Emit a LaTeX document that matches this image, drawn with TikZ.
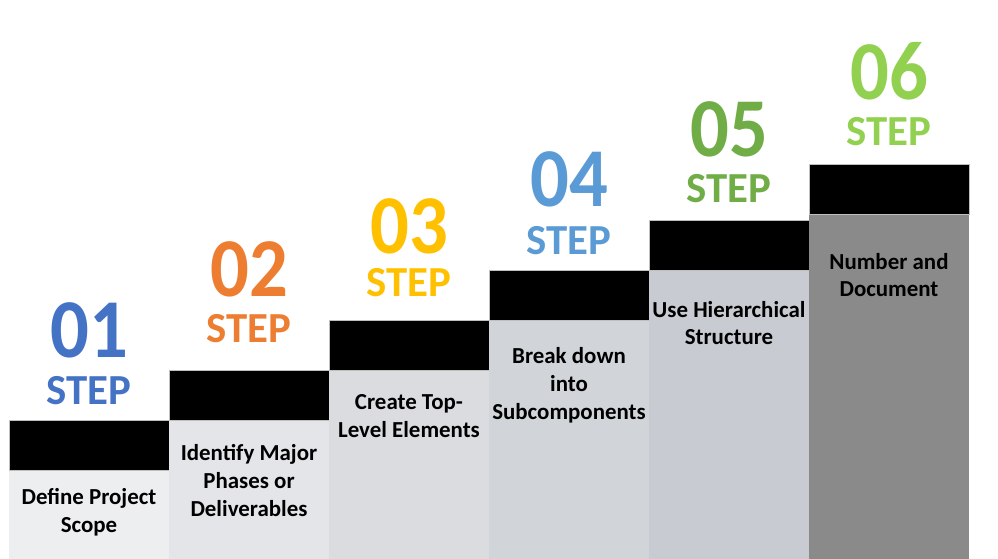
\documentclass[tikz,border=0pt]{standalone}
\usepackage{fontspec}
\newfontfamily\stepfont{Carlito}
\usetikzlibrary{positioning}
\definecolor{cone}{HTML}{4472C4}
\definecolor{ctwo}{HTML}{ED7D31}
\definecolor{cthree}{HTML}{FFC000}
\definecolor{cfour}{HTML}{5B9BD5}
\definecolor{cfive}{HTML}{70AD47}
\definecolor{csix}{HTML}{92D050}
\definecolor{gone}{HTML}{EDEEF0}
\definecolor{gtwo}{HTML}{E3E5E8}
\definecolor{gthree}{HTML}{DADCE0}
\definecolor{gfour}{HTML}{D1D4D9}
\definecolor{gfive}{HTML}{C8CBD1}
\definecolor{gsix}{HTML}{8A8A8A}
\tikzset{
    band/.style={fill=black,draw=black!25,line width=0.4bp},
    numtxt/.style={anchor=base,inner sep=0pt,text depth=0pt,text height=56bp,font=\stepfont\bfseries\fontsize{84}{84}\selectfont},
    steptxt/.style={anchor=base,inner sep=0pt,text depth=0pt,text height=27bp,font=\stepfont\bfseries\fontsize{43}{43}\selectfont},
    labeltxt/.style={anchor=base,align=center,inner sep=0pt,font=\stepfont\bfseries\fontsize{23}{28}\selectfont}
}
\begin{document}
\begin{tikzpicture}[x=1bp,y=-1bp]
            \useasboundingbox (0,0) rectangle (998,559);
            % \ly is the baseline of the last line of each label
            \foreach \n/\x/\t/\c/\g/\ny/\sy/\ly/\txt in {
                01/9/420/cone/gone/358/404/532/{Define Project\\Scope},
                02/169/370/ctwo/gtwo/297/343/516/{Identify Major\\Phases or\\Deliverables},
                03/329/320/cthree/gthree/254/297/437/{Create Top-\\Level Elements},
                04/489/270/cfour/gfour/207/255/419/{Break down\\into\\Subcomponents},
                05/649/220/cfive/gfive/157/203/345/{Use Hierarchical\\Structure},
                06/809/164/csix/gsix/100/146/297/{Number and\\Document}}{
                \fill[\g] (\x,\t+50) rectangle (\x+160,559);
                \draw[band] (\x,\t) rectangle (\x+160,\t+50);
                \node[numtxt,text=\c] (num\n) at (\x+80,\ny) {\scalebox{0.915}[1]{\n}};
                \node[steptxt,text=\c] (step\n) at (\x+80,\sy) {STEP};
                \node[labeltxt] (lbl\n) at (\x+80,\ly) {\txt};
            }
        \end{tikzpicture}
\end{document}
